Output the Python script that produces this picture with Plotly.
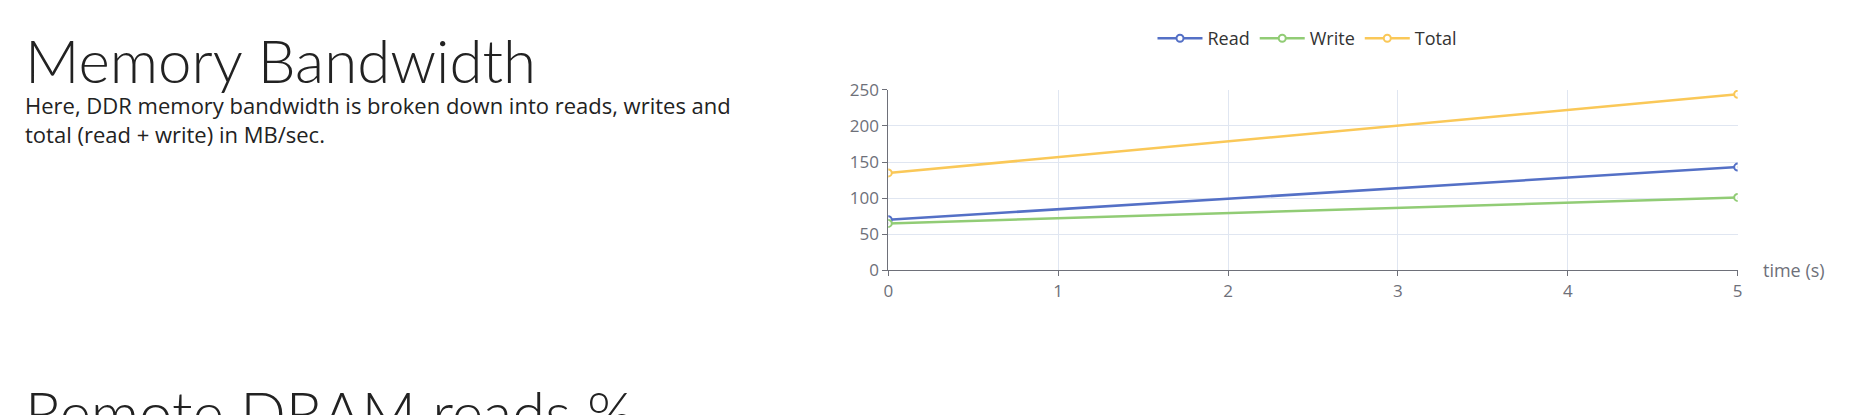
import plotly.graph_objects as go

time_s = [0, 5]
read = [70, 143]
write = [65, 101]
total = [135, 244]
names = ["Read", "Write", "Total"]
colors = ["#5470c6", "#91cc75", "#fac858"]

W, H = 1857, 415
fig = go.Figure()
for n, ys, c in zip(names, [read, write, total], colors):
    fig.add_trace(go.Scatter(x=time_s, y=ys, name=n, mode="lines+markers",
                             line=dict(color=c, width=2.5),
                             marker=dict(symbol="circle", size=7, color="white", line=dict(width=2, color=c))))

ax = dict(color="#6E7079", tickfont=dict(size=17, color="#6E7079"), gridcolor="#E0E6F1",
          showline=True, linecolor="#6E7079", ticks="outside", ticklen=5, tickcolor="#6E7079", zeroline=False)
fig.update_layout(
    width=W, height=H, margin=dict(l=0, r=0, t=0, b=0),
    paper_bgcolor="white", plot_bgcolor="white",
    font=dict(family="Open Sans, Noto Sans, sans-serif"),
    xaxis=dict(domain=[880/W, 1734/W], range=[0, 5], dtick=1, **ax),
    yaxis=dict(domain=[1-265/H, 1-74/H], range=[0, 250], dtick=50, **ax),
    legend=dict(orientation="h", x=1301/W, xanchor="center", y=1, yanchor="top",
                font=dict(size=18, color="#333"), itemwidth=45),
    showlegend=True,
    annotations=[
        dict(text="Memory Bandwidth", x=10/W, y=1-2/H, xref="paper", yref="paper", xanchor="left",
             yanchor="top", showarrow=False, font=dict(size=60, color="#222", family="Lato", weight=300)),
        dict(text="Here, DDR memory bandwidth is broken down into reads, writes and<br>total (read + write) in MB/sec.",
             x=10/W, y=1-72/H, xref="paper", yref="paper", xanchor="left", yanchor="top", align="left",
             showarrow=False, font=dict(size=22, color="#222")),
        dict(text="time (s)", x=1757/W, y=1-265/H, xref="paper", yref="paper", xanchor="left",
             yanchor="middle", showarrow=False, font=dict(size=18, color="#6E7079")),
        dict(text="Remote DRAM reads %", x=10/W, y=1-375/H, xref="paper", yref="paper", xanchor="left",
             yanchor="top", showarrow=False, font=dict(size=60, color="#222", family="Lato", weight=300)),
    ],
)
fig.write_html("out.html")
